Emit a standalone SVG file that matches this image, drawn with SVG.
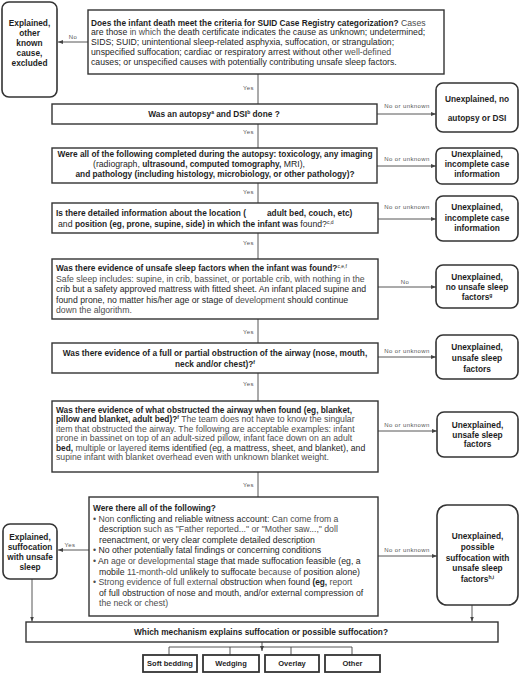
<svg xmlns="http://www.w3.org/2000/svg" width="520" height="683" viewBox="0 0 520 683">
<defs>
<style>
text{font-family:"Liberation Sans",Arial,sans-serif;}
.b{font-weight:bold;font-size:8.3px;fill:#1e1e1e}
.r{font-size:8.7px;fill:#262626}
.l{font-size:8.7px;fill:#4d4d4d}
.s{font-size:5px}
.lab{font-size:6px;fill:#555;letter-spacing:0.4px}
.box{fill:#fff;stroke:#333;stroke-width:1.4}
.rbox{fill:#fff;stroke:#333;stroke-width:1.6}
.sbox{fill:#fff;stroke:#333;stroke-width:1.8}
.con{stroke:#444;stroke-width:0.9;fill:none}
.c{text-anchor:middle}
</style>
<marker id="ah" markerUnits="userSpaceOnUse" markerWidth="5" markerHeight="4" refX="5" refY="2" orient="auto">
<path d="M0,0 L5,2 L0,4 Z" fill="#444"/>
</marker>
</defs>
<rect width="520" height="683" fill="#fff"/>

<g id="connectors">
<path class="con" d="M88,42 H58" marker-end="url(#ah)"/>
<path class="con" d="M258,74 V104 M258,124 V148 M258,183 V203 M258,233 V259 M258,319 V343 M258,373 V401 M258,472 V497"/>
<path class="con" d="M377,114 H436" marker-end="url(#ah)"/>
<path class="con" d="M377,166 H436" marker-end="url(#ah)"/>
<path class="con" d="M378,219 H436" marker-end="url(#ah)"/>
<path class="con" d="M378,287 H436" marker-end="url(#ah)"/>
<path class="con" d="M378,357 H436" marker-end="url(#ah)"/>
<path class="con" d="M378,431 H437" marker-end="url(#ah)"/>
<path class="con" d="M378,556 H437" marker-end="url(#ah)"/>
<path class="con" d="M89,550 H58" marker-end="url(#ah)"/>
<path class="con" d="M32,579 V621.5" marker-end="url(#ah)"/>
<path class="con" d="M472,605 V621.5" marker-end="url(#ah)"/>
<path class="con" d="M262,642 V651" marker-end="url(#ah)"/>
<path class="con" d="M169,647 H352 M169,647 V655 M230,647 V655 M291,647 V655 M352,647 V655"/>
<text class="lab c" x="73" y="39">No</text>
<text class="lab" x="254" y="90" text-anchor="end">Yes</text>
<text class="lab" x="254" y="133.5" text-anchor="end">Yes</text>
<text class="lab" x="254" y="193.5" text-anchor="end">Yes</text>
<text class="lab" x="254" y="245" text-anchor="end">Yes</text>
<text class="lab" x="254" y="334" text-anchor="end">Yes</text>
<text class="lab" x="254" y="386" text-anchor="end">Yes</text>
<text class="lab" x="254" y="487" text-anchor="end">Yes</text>
<text class="lab c" x="407" y="108">No or unknown</text>
<text class="lab c" x="407" y="161">No or unknown</text>
<text class="lab c" x="407" y="209">No or unknown</text>
<text class="lab c" x="405" y="284">No</text>
<text class="lab c" x="407" y="353">No or unknown</text>
<text class="lab c" x="407" y="427">No or unknown</text>
<text class="lab c" x="407" y="552">No or unknown</text>
<text class="lab c" x="70" y="547">Yes</text>
</g>

<g id="q1">
<rect class="box" x="88" y="10" width="356" height="64"/>
<text x="91" y="25.5"><tspan class="b">Does the infant death meet the criteria for SUID Case Registry categorization?</tspan><tspan class="l"> Cases</tspan></text>
<text x="91" y="35.3"><tspan class="r">are those </tspan><tspan class="l">in which</tspan><tspan class="r"> the death certificate indicates the cause as unknown; undetermined;</tspan></text>
<text x="91" y="45.1" class="r">SIDS; SUID; unintentional sleep-related asphyxia, suffocation, or strangulation;</text>
<text x="91" y="54.9"><tspan class="r">unspecified suffocation; cardiac or respiratory arrest without other </tspan><tspan class="l">well-defined</tspan></text>
<text x="91" y="64.7" class="r">causes; or unspecified causes with potentially contributing unsafe sleep factors.</text>
</g>

<g id="explained-other">
<rect class="rbox" x="2" y="2" width="55" height="95" rx="7"/>
<text class="b c" x="29.5" y="26">Explained,</text>
<text class="b c" x="29.5" y="36">other</text>
<text class="b c" x="29.5" y="46">known</text>
<text class="b c" x="29.5" y="56">cause,</text>
<text class="b c" x="29.5" y="66">excluded</text>
</g>

<g id="q2">
<rect class="box" x="52" y="104" width="325" height="20"/>
<text class="b c" x="214" y="117">Was an autopsy<tspan class="s" dy="-3">a</tspan><tspan dy="3"> and DSI</tspan><tspan class="s" dy="-3">b</tspan><tspan dy="3"> done ?</tspan></text>
</g>

<g id="r1">
<rect class="rbox" x="436" y="83" width="82" height="49" rx="7"/>
<text class="b c" x="477" y="102">Unexplained, no</text>
<text class="b c" x="477" y="121">autopsy or DSI</text>
</g>

<g id="q3">
<rect class="box" x="52" y="148" width="325" height="35"/>
<text class="b c" x="215" y="157">Were all of the following completed during the autopsy: toxicology, any imaging</text>
<text class="c" x="199" y="167"><tspan class="r">(radiograph, </tspan><tspan class="b">ultrasound, computed tomography,</tspan><tspan class="r"> MRI),</tspan></text>
<text class="b c" x="215" y="177">and pathology (including histology, microbiology, or other pathology)?</text>
</g>

<g id="r2">
<rect class="rbox" x="436" y="148" width="82" height="36" rx="6"/>
<text class="b c" x="477" y="156.5">Unexplained,</text>
<text class="b c" x="477" y="167">incomplete case</text>
<text class="b c" x="477" y="176.5">information</text>
</g>

<g id="q4">
<rect class="box" x="52" y="203" width="326" height="30"/>
<text x="56" y="216"><tspan class="b">Is there detailed information about the location (</tspan><tspan class="b" x="267">adult bed, couch, etc)</tspan></text>
<text x="58" y="227"><tspan class="r">and </tspan><tspan class="b">position (eg, prone, supine, side) in which the infant was </tspan><tspan class="r">found?</tspan><tspan class="r s" dy="-3">c,d</tspan></text>
</g>

<g id="r3">
<rect class="rbox" x="436" y="196" width="82" height="45" rx="7"/>
<text class="b c" x="477" y="210">Unexplained,</text>
<text class="b c" x="477" y="221">incomplete case</text>
<text class="b c" x="477" y="231">information</text>
</g>

<g id="q5">
<rect class="box" x="52" y="259" width="326" height="60"/>
<text x="56" y="271"><tspan class="b">Was there evidence of unsafe sleep factors when the infant was found?</tspan><tspan class="r s" dy="-3">c,e,f</tspan></text>
<text x="56" y="281.5" class="l">Safe sleep includes: supine, in crib, bassinet, or portable crib, with nothing in the</text>
<text x="56" y="292" class="r">crib but a safety approved mattress with fitted sheet. An infant placed supine and</text>
<text x="56" y="302.5"><tspan class="r">found prone, no matter his/her age or stage of </tspan><tspan class="l">development</tspan><tspan class="r"> should continue</tspan></text>
<text x="56" y="313" class="l">down the algorithm.</text>
</g>

<g id="r4">
<rect class="rbox" x="436" y="265" width="82" height="43" rx="7"/>
<text class="b c" x="477" y="280">Unexplained,</text>
<text class="b c" x="477" y="290">no unsafe sleep</text>
<text class="b c" x="477" y="300">factors<tspan class="s" dy="-3">g</tspan></text>
</g>

<g id="q6">
<rect class="box" x="52" y="343" width="326" height="30"/>
<text class="b c" x="215" y="356">Was there evidence of a full or partial obstruction of the airway (nose, mouth,</text>
<text class="b c" x="215" y="367">neck and/or chest)?<tspan class="s" dy="-3">f</tspan></text>
</g>

<g id="r5">
<rect class="rbox" x="436" y="335" width="82" height="44" rx="7"/>
<text class="b c" x="477" y="350">Unexplained,</text>
<text class="b c" x="477" y="361">unsafe sleep</text>
<text class="b c" x="477" y="372">factors</text>
</g>

<g id="q7">
<rect class="box" x="52" y="401" width="326" height="71"/>
<text x="56" y="412.5" class="b">Was there evidence of what obstructed the airway when found (eg, blanket,</text>
<text x="56" y="422"><tspan class="b">pillow and blanket, adult bed)?</tspan><tspan class="b s" dy="-3">f</tspan><tspan class="l" dy="3"> The team does not have to know the singular</tspan></text>
<text x="56" y="431.5" class="l">item that obstructed the airway. The following are acceptable examples: infant</text>
<text x="56" y="441" class="l">prone in bassinet on top of an adult-sized pillow, infant face down on an adult</text>
<text x="56" y="450.5"><tspan class="b">bed,</tspan><tspan class="l"> multiple or layered </tspan><tspan class="r">items identified (eg, a mattress, sheet, and blanket), and</tspan></text>
<text x="56" y="460" class="l">supine infant with blanket overhead even with unknown blanket weight.</text>
</g>

<g id="r6">
<rect class="rbox" x="437" y="412" width="81" height="45" rx="7"/>
<text class="b c" x="477.5" y="428">Unexplained,</text>
<text class="b c" x="477.5" y="437.5">unsafe sleep</text>
<text class="b c" x="477.5" y="447">factors</text>
</g>

<g id="q8">
<rect class="box" x="89" y="497" width="289" height="119"/>
<text x="93" y="511" class="b">Were there all of the following?</text>
<text x="93" y="521.6"><tspan class="l">•  Non </tspan><tspan class="r">conflicting and reliable witness account</tspan><tspan class="l">: Can come from a</tspan></text>
<text x="99" y="532.2"><tspan class="r">description </tspan><tspan class="l"> such as "Father reported..." or "Mother saw...," doll</tspan></text>
<text x="99" y="542.8" class="r">reenactment, or very clear complete detailed description</text>
<text x="93" y="553.4"><tspan class="l">•  </tspan><tspan class="r">No other potentially fatal findings or concerning conditions</tspan></text>
<text x="93" y="564"><tspan class="l">•  </tspan><tspan class="r">An </tspan><tspan class="l">age or developmental</tspan><tspan class="r"> stage that made suffocation feasible (eg, a</tspan></text>
<text x="99" y="574.6"><tspan class="r">mobile </tspan><tspan class="l">11-month-old </tspan><tspan class="r">unlikely to suffocate </tspan><tspan class="l">because of </tspan><tspan class="r">position alone)</tspan></text>
<text x="93" y="585.2"><tspan class="l">•  Strong evidence of full external </tspan><tspan class="r">obstruction when found </tspan><tspan class="b">(eg,</tspan><tspan class="l"> report</tspan></text>
<text x="99" y="595.8" class="r">of full obstruction of nose and mouth, and/or external compression of</text>
<text x="99" y="606.4" class="l">the neck or chest)</text>
</g>

<g id="explained-suffocation">
<rect class="rbox" x="3" y="524" width="54" height="55" rx="7"/>
<text class="b c" x="30" y="540">Explained,</text>
<text class="b c" x="30" y="550">suffocation</text>
<text class="b c" x="30" y="560">with unsafe</text>
<text class="b c" x="30" y="570">sleep</text>
</g>

<g id="r7">
<rect class="rbox" x="437" y="505" width="81" height="100" rx="10"/>
<text class="b c" x="477.5" y="538.5">Unexplained,</text>
<text class="b c" x="477.5" y="549.5">possible</text>
<text class="b c" x="477.5" y="560.5">suffocation with</text>
<text class="b c" x="477.5" y="571">unsafe sleep</text>
<text class="b c" x="477.5" y="581.5">factors<tspan class="s" dy="-3">h,i</tspan></text>
</g>

<g id="mechanism">
<rect class="box" x="26" y="622" width="472" height="20"/>
<text class="b c" x="261" y="635">Which mechanism explains suffocation or possible suffocation?</text>
</g>

<g id="soft-bedding">
<rect class="sbox" x="143" y="655" width="54" height="17"/>
<text class="b c" x="170" y="666" style="font-size:7.5px">Soft bedding</text>
</g>
<g id="wedging">
<rect class="sbox" x="203" y="655" width="56" height="17"/>
<text class="b c" x="231" y="666" style="font-size:7.5px">Wedging</text>
</g>
<g id="overlay">
<rect class="sbox" x="265" y="655" width="54" height="17"/>
<text class="b c" x="292" y="666" style="font-size:7.5px">Overlay</text>
</g>
<g id="other">
<rect class="sbox" x="325" y="655" width="55" height="17"/>
<text class="b c" x="352.5" y="666" style="font-size:7.5px">Other</text>
</g>
</svg>
